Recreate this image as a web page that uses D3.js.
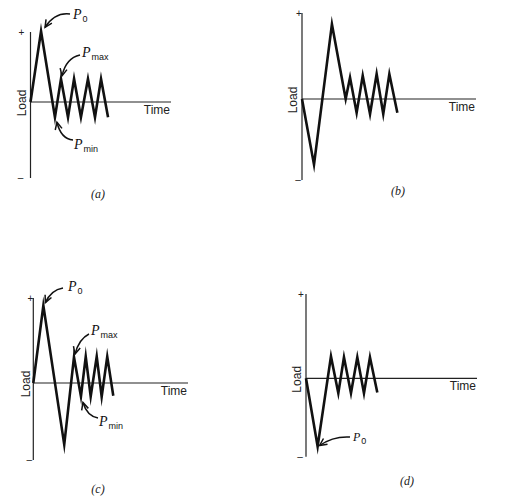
<!DOCTYPE html>
<html>
<head>
<meta charset="utf-8">
<script src="https://cdn.jsdelivr.net/npm/d3@7"></script>
<style>
  body { margin: 0; background: #fff; }
  svg { display: block; }
  .axis-lbl { font-family: "Liberation Sans", Arial, sans-serif; font-size: 12px; fill: #222; }
  .sign { font-family: "Liberation Sans", Arial, sans-serif; font-size: 10px; fill: #222; }
  .pname { font-family: "Liberation Serif", "DejaVu Serif", serif; font-style: italic; font-size: 14px; fill: #111; }
  .psub { font-family: "Liberation Sans", Arial, sans-serif; font-style: normal; font-size: 9px; }
  .cap { font-family: "Liberation Serif", "DejaVu Serif", serif; font-style: italic; font-size: 12px; fill: #222; }
</style>
</head>
<body>
<div id="chart"></div>
<script>
// load history, time in % of axis length, load relative to the +/- axis ends
var panelNames = ["a", "b", "c", "d"];
var captions = ["(a)", "(b)", "(c)", "(d)"];

var timeA = [0, 7.5, 17.4, 21.7, 26.7, 31.0, 35.9, 40.9, 45.9, 50.2, 55.2];
var loadA = [0, 1.01, -0.2, 0.33, -0.2, 0.33, -0.2, 0.33, -0.2, 0.33, -0.2];

var timeB = [0, 6.9, 17.2, 25.1, 27.6, 31.4, 34.9, 39.1, 42.9, 46.7, 50.2, 54.8];
var loadB = [0, -0.81, 0.87, 0, 0.25, -0.17, 0.27, -0.185, 0.29, -0.185, 0.29, -0.17];

var timeC = [0, 6.5, 20.0, 26.3, 30.8, 33.9, 37.1, 41.0, 44.2, 47.8, 51.7];
var loadC = [0, 0.91, -0.8, 0.305, -0.175, 0.31, -0.175, 0.31, -0.178, 0.31, -0.165];

var timeD = [0, 6.8, 14.6, 18.9, 22.2, 26.3, 30.0, 33.9, 37.4, 41.7];
var loadD = [0, -0.87, 0.26, -0.19, 0.25, -0.19, 0.25, -0.19, 0.25, -0.18];

var seriesTime = [timeA, timeB, timeC, timeD];
var seriesLoad = [loadA, loadB, loadC, loadD];

// labelled points: subscript and index of the point in the series
var notesA = [{sub: "0", at: 1}, {sub: "max", at: 3}, {sub: "min", at: 2}];
var notesB = [];
var notesC = [{sub: "0", at: 1}, {sub: "max", at: 3}, {sub: "min", at: 4}];
var notesD = [{sub: "0", at: 1}];
var seriesNotes = [notesA, notesB, notesC, notesD];

///////////////////////////////////////////////////////////////////////////
///////////////////////////// Layout //////////////////////////////////////
///////////////////////////////////////////////////////////////////////////

var w = 519, h = 500;

var frames = [
	{x0: 30.5, xEnd: 171, yTop: 32, yZero: 102, yBot: 178, plusDx: -9, capX: 98, capY: 198, loadDx: -5},
	{x0: 302, xEnd: 476, yTop: 13, yZero: 99, yBot: 180, plusDx: -3, capX: 398, capY: 195, loadDx: -5},
	{x0: 33.3, xEnd: 188, yTop: 298, yZero: 383, yBot: 460, plusDx: -3, capX: 98, capY: 493, loadDx: -3},
	{x0: 306, xEnd: 477, yTop: 294, yZero: 378.3, yBot: 456.7, plusDx: -5, capX: 407, capY: 485, loadDx: -5}
];

//text position, arrow tail, arrow control point, tip offset from the point
var noteLayout = [
	[{tx: 73, ty: 19, ax: 70, ay: 14, cx: 55, cy: 12, dx: 4, dy: -4, size: 14},
	 {tx: 82, ty: 57, ax: 80, ay: 55, cx: 66, cy: 58, dx: 1, dy: -3, size: 14},
	 {tx: 74, ty: 149, ax: 73, ay: 140, cx: 61, cy: 139, dx: 2, dy: 5, size: 14}],
	[],
	[{tx: 68, ty: 291, ax: 63, ay: 288, cx: 51, cy: 290, dx: 2, dy: -3, size: 14},
	 {tx: 91, ty: 335, ax: 89, ay: 334, cx: 79, cy: 339, dx: 1, dy: -3, size: 14},
	 {tx: 99, ty: 426, ax: 98, ay: 418, cx: 87, cy: 416, dx: 2, dy: 6, size: 14}],
	[{tx: 353, ty: 441, ax: 350, ay: 437, cx: 333, cy: 436, dx: 2, dy: -1, size: 12}]
];

var svg = d3.select("#chart").append("svg")
	.attr("width", w)
	.attr("height", h);

svg.append("rect").attr("width", w).attr("height", h).attr("fill", "#fff");

panelNames.forEach(function(name, i) {
	var f = frames[i];
	var g = svg.append("g").attr("class", "panel panel-" + name);

	var xScale = d3.scaleLinear().domain([0, 100]).range([f.x0, f.xEnd]);
	var yScale = d3.scaleLinear().domain([-1, 0, 1]).range([f.yBot, f.yZero, f.yTop]);

	//axes
	g.append("line")
		.attr("x1", xScale(0)).attr("x2", xScale(0))
		.attr("y1", yScale(1)).attr("y2", yScale(-1))
		.attr("stroke", "#222").attr("stroke-width", 1.2);
	g.append("line")
		.attr("x1", xScale(0)).attr("x2", xScale(100))
		.attr("y1", yScale(0)).attr("y2", yScale(0))
		.attr("stroke", "#222").attr("stroke-width", 1.2);

	g.append("text").attr("class", "sign")
		.attr("x", xScale(0) + f.plusDx).attr("y", yScale(1) + 4)
		.attr("text-anchor", "middle")
		.text("+");
	g.append("text").attr("class", "sign")
		.attr("x", xScale(0) + f.plusDx - 1).attr("y", yScale(-1) + 3)
		.attr("text-anchor", "middle")
		.text("\u2013");

	g.append("text").attr("class", "axis-lbl")
		.attr("text-anchor", "end")
		.attr("x", xScale(100) - 1)
		.attr("y", yScale(0) + 12)
		.text("Time");

	g.append("text").attr("class", "axis-lbl")
		.attr("text-anchor", "middle")
		.attr("transform", "translate(" + (xScale(0) + f.loadDx) + "," + (yScale(0) + 1) + ") rotate(-90)")
		.text("Load");

	//load trace
	var pts = seriesTime[i].map(function(t, k) { return [t, seriesLoad[i][k]]; });
	var line = d3.line()
		.x(function(d) { return xScale(d[0]); })
		.y(function(d) { return yScale(d[1]); });
	g.append("path")
		.datum(pts)
		.attr("d", line)
		.attr("fill", "none")
		.attr("stroke", "#111")
		.attr("stroke-width", 2.6)
		.attr("stroke-linejoin", "miter")
		.attr("stroke-miterlimit", 20);

	//labelled points
	seriesNotes[i].forEach(function(n, k) {
		var L = noteLayout[i][k];
		var px = xScale(pts[n.at][0]) + L.dx,
			py = yScale(pts[n.at][1]) + L.dy;
		var p = d3.path();
		p.moveTo(L.ax, L.ay);
		p.quadraticCurveTo(L.cx, L.cy, px, py);
		g.append("path")
			.attr("d", p.toString())
			.attr("fill", "none")
			.attr("stroke", "#111")
			.attr("stroke-width", 1.5);

		//arrow head along the end tangent
		var ang = Math.atan2(py - L.cy, px - L.cx),
			len = 8, spread = 0.45;
		var head = d3.path();
		head.moveTo(px - len * Math.cos(ang - spread), py - len * Math.sin(ang - spread));
		head.lineTo(px, py);
		head.lineTo(px - len * Math.cos(ang + spread), py - len * Math.sin(ang + spread));
		g.append("path")
			.attr("d", head.toString())
			.attr("fill", "none")
			.attr("stroke", "#111")
			.attr("stroke-width", 1.5);

		var txt = g.append("text").attr("class", "pname")
			.attr("x", L.tx).attr("y", L.ty)
			.style("font-size", L.size + "px")
			.text("P");
		txt.append("tspan").attr("class", "psub")
			.attr("dx", 1).attr("dy", 3)
			.text(n.sub);
	});

	g.append("text").attr("class", "cap")
		.attr("x", f.capX).attr("y", f.capY)
		.attr("text-anchor", "middle")
		.text(captions[i]);
});
</script>
</body>
</html>
